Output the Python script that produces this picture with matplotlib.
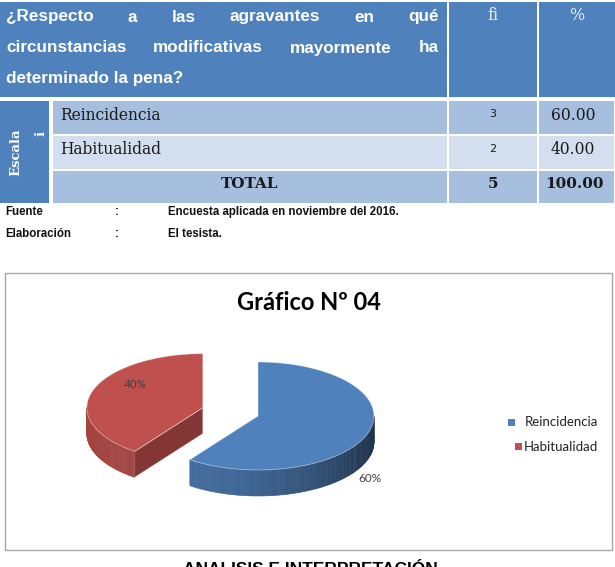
import matplotlib
matplotlib.use('Agg')
import matplotlib.pyplot as plt
import numpy as np
from matplotlib.patches import Rectangle, Polygon
from matplotlib.colors import to_rgb

# Data of the table / chart
question = ["¿Respecto a las agravantes en qué",
            "circunstancias modificativas mayormente ha",
            "determinado la pena?"]
categories = ["Reincidencia", "Habitualidad"]
fi = [3, 2]
pct = [60.00, 40.00]
chart_title = "Gráfico Nº 04"
source = "Encuesta aplicada en noviembre del 2016."
author = "El tesista."

# colours
hdr_blue = '#4f81bd'
row_dark = '#a7bfde'
row_light = '#d3dfee'
pie_cols = ['#4f81bd', '#c0504d']

W, H = 615, 567
fig = plt.figure(figsize=(6.15, 5.67), dpi=100)
ax = fig.add_axes([0, 0, 1, 1])
ax.set_xlim(0, W)
ax.set_ylim(H, 0)
ax.axis('off')
renderer = fig.canvas.get_renderer()

def box(x0, y0, x1, y1, c, **kw):
    ax.add_patch(Rectangle((x0, y0), x1 - x0, y1 - y0, facecolor=c, edgecolor='none', **kw))

# ---- table header
box(0, 2, 447, 97, hdr_blue)
box(449, 2, 537, 97, hdr_blue)
box(539, 2, 615, 97, hdr_blue)

hfont = dict(family='Liberation Sans', weight='bold', size=12.3, color='white')
def justify(line, y, x0, x1, last=False):
    words = line.split()
    if last:
        ax.text(x0, y, line, va='center', ha='left', **hfont)
        return
    ts = [ax.text(0, y, w, va='center', ha='left', **hfont) for w in words]
    ws = [t.get_window_extent(renderer).width for t in ts]
    gap = (x1 - x0 - sum(ws)) / (len(words) - 1)
    x = x0
    for t, w in zip(ts, ws):
        t.set_x(x)
        x += w + gap

for i, line in enumerate(question):
    justify(line, 17 + 31 * i, 6, 439, last=(i == len(question) - 1))

ax.text(493, 16, 'fi', ha='center', va='center', family='DejaVu Serif', size=11.5, color='#e4ecf6')
ax.text(577, 16, '%', ha='center', va='center', family='DejaVu Serif', size=11.5, color='#e4ecf6')

# ---- table body
box(0, 101, 49, 203, hdr_blue)
ax.text(16, 152, 'Escala', rotation=90, ha='center', va='center', family='DejaVu Serif',
        weight='bold', size=9.5, color='white')
ax.text(41, 133, 'i', rotation=90, ha='center', va='center', family='DejaVu Serif',
        weight='bold', size=9.5, color='white')

rows_y = [(101, 134), (136, 169)]
row_cols = [row_dark, row_light]
for (y0, y1), c, cat, f, p in zip(rows_y, row_cols, categories, fi, pct):
    box(53, y0, 447, y1, c)
    box(449, y0, 537, y1, c)
    box(539, y0, 614, y1, c)
    ym = (y0 + y1) / 2 - 2.5
    ax.text(60, ym, cat, ha='left', va='center', family='DejaVu Serif', size=11.2, color='#1a1a1a')
    ax.text(493, ym - 1, str(f), ha='center', va='center', family='DejaVu Sans', size=8, color='#1a1a1a')
    ax.text(573, ym, f'{p:.2f}', ha='center', va='center', family='DejaVu Serif', size=11.2, color='#1a1a1a')

box(53, 171, 447, 203, row_dark)
box(449, 171, 537, 203, row_dark)
box(539, 171, 614, 203, row_dark)
ax.text(250, 184, 'TOTAL', ha='center', va='center', family='DejaVu Serif', weight='bold', size=11, color='#1a1a1a')
ax.text(493, 184, str(sum(fi)), ha='center', va='center', family='DejaVu Serif', weight='bold', size=11, color='#1a1a1a')
ax.text(574, 184, f'{sum(pct):.2f}', ha='center', va='center', family='DejaVu Serif', weight='bold', size=11, color='#1a1a1a')

# ---- source lines
ffont = dict(family='Liberation Sans', weight='bold', size=8.3, color='#111111', va='center')
ax.text(5, 212, 'Fuente', **ffont)
ax.text(115, 212, ':', **ffont)
ax.text(168, 212, source, **ffont)
ax.text(5, 234, 'Elaboración', **ffont)
ax.text(115, 234, ':', **ffont)
ax.text(168, 234, author, **ffont)

# ---- chart frame
ax.add_patch(Rectangle((5, 273), 607, 277, facecolor='white', edgecolor='#a6a6a6', lw=1))
ax.text(309, 302, chart_title, ha='center', va='center', family='Lato', weight='bold',
        size=17, color='black')

# ---- 3D pie, drawn by hand
cx, cy = 258, 416
rx, ry, depth = 116, 54, 26
explode = [0.0, 0.5]

def shade(c, k):
    return tuple(np.clip(np.array(to_rgb(c)) * k, 0, 1))

def side_k(t):
    f = (np.cos(np.radians(t)) + 1) / 2
    return 0.85 - 0.45 * f ** 2.2

def draw_slice(a, b, col, e):
    m = np.radians((a + b) / 2)
    ox = cx + e * rx * np.cos(m)
    oy = cy - e * ry * np.sin(m)
    t = np.linspace(a, b, 200)
    xs = ox + rx * np.cos(np.radians(t))
    ys = oy - ry * np.sin(np.radians(t))
    # visible radial cut faces
    for ang, nrm in ((a, a - 90), (b, b + 90)):
        if np.sin(np.radians(nrm)) < -1e-6:
            ex = ox + rx * np.cos(np.radians(ang))
            ey = oy - ry * np.sin(np.radians(ang))
            ax.add_patch(Polygon([(ox, oy), (ex, ey), (ex, ey + depth), (ox, oy + depth)],
                                 closed=True, facecolor=shade(col, 0.68),
                                 edgecolor=(1, 1, 1, 0.45), lw=0.6))
    # outer front side
    for i in range(len(t) - 1):
        tm = (t[i] + t[i + 1]) / 2
        if np.sin(np.radians(tm)) < 0:
            c = shade(col, side_k(tm))
            ax.add_patch(Polygon([(xs[i], ys[i]), (xs[i + 1], ys[i + 1]),
                                  (xs[i + 1], ys[i + 1] + depth), (xs[i], ys[i] + depth)],
                                 closed=True, facecolor=c, edgecolor=c, lw=0.4))
    # top face
    pts = [(ox, oy)] + list(zip(xs, ys))
    ax.add_patch(Polygon(pts, closed=True, facecolor=col, edgecolor=(1, 1, 1, 0.45), lw=0.6))

fr = np.array(fi) / sum(fi)
bounds = 90 - 360 * np.concatenate([[0], np.cumsum(fr)])
# back slice first
for i in reversed(range(len(fi))):
    draw_slice(bounds[i + 1], bounds[i], pie_cols[i], explode[i])

label_pos = [(370, 479), (135, 385)]
for (lx, ly), p in zip(label_pos, pct):
    ax.text(lx, ly, f'{p:.0f}%', ha='center', va='center', family='Lato', size=8.5, color='#404040')

# legend
leg_sq = [(508, 419), (515, 443)]
leg_y = [422, 447]
for (sx, sy), ty, c, cat in zip(leg_sq, leg_y, pie_cols, categories):
    ax.add_patch(Rectangle((sx, sy), 7, 7, facecolor=c, edgecolor='none'))
    ax.text(598, ty, cat, ha='right', va='center', family='Lato', size=9.5, color='#222222')

# heading below, cut off by the page as in the original
ax.text(310, 562, 'ANALISIS E INTERPRETACIÓN', ha='center', va='top', family='Liberation Sans',
        weight='bold', size=12.5, color='black')

fig.savefig('out.png', dpi=100)
